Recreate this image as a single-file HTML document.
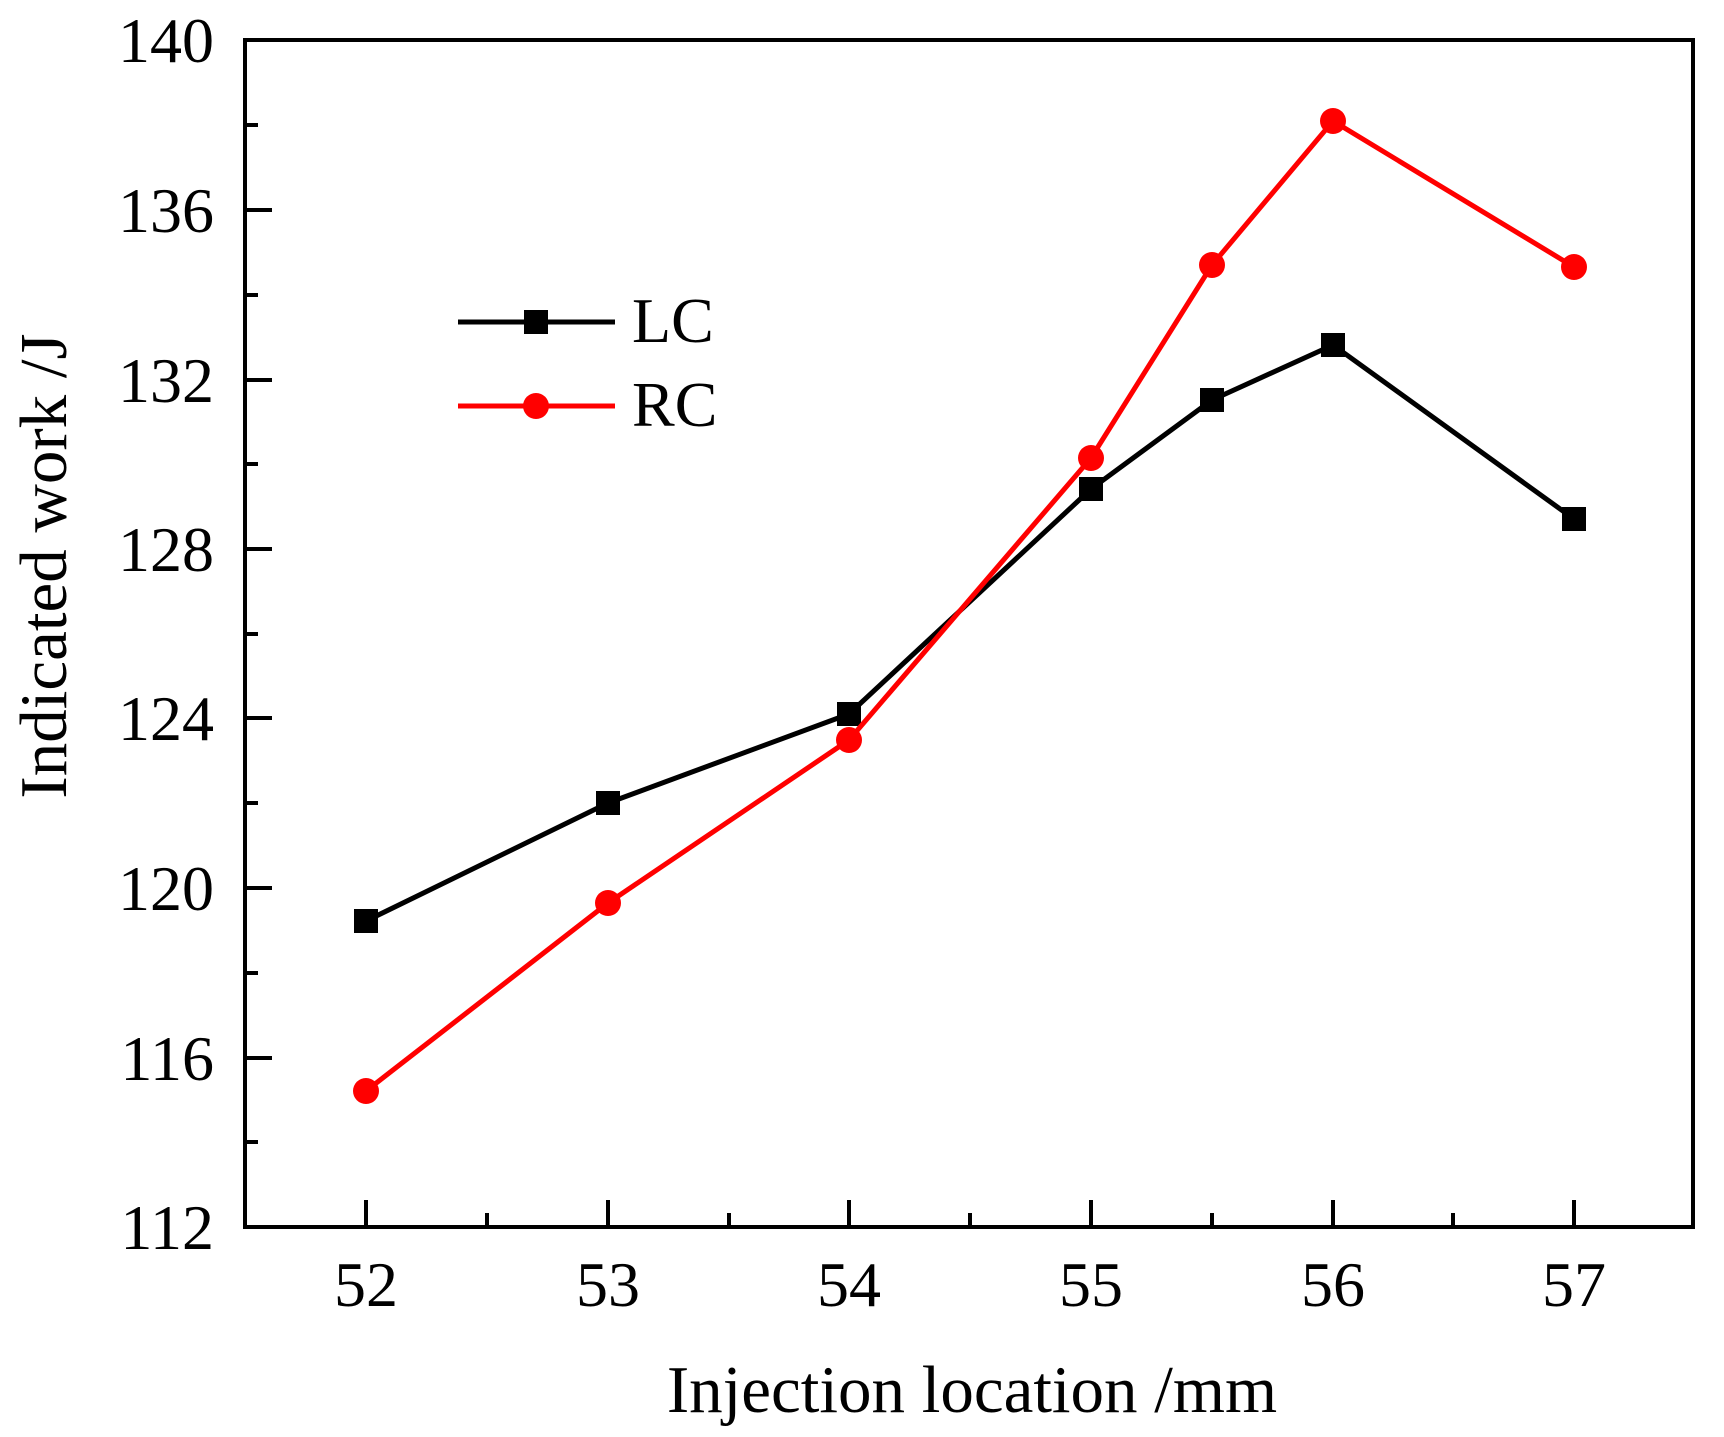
<!DOCTYPE html>
<html><head><meta charset="utf-8"><style>
html,body{margin:0;padding:0;background:#fff;}
svg{display:block;}
text{font-family:"Liberation Serif",serif;fill:#000;}
</style></head><body>
<svg width="1724" height="1437" viewBox="0 0 1724 1437" xmlns="http://www.w3.org/2000/svg">
<rect width="1724" height="1437" fill="#fff"/>
<g stroke="#000" stroke-width="4">
<rect x="245" y="40" width="1448" height="1187" fill="none"/>
<line x1="245" y1="40" x2="272" y2="40"/>
<line x1="245" y1="125" x2="258" y2="125"/>
<line x1="245" y1="210" x2="272" y2="210"/>
<line x1="245" y1="295" x2="258" y2="295"/>
<line x1="245" y1="380" x2="272" y2="380"/>
<line x1="245" y1="464" x2="258" y2="464"/>
<line x1="245" y1="549" x2="272" y2="549"/>
<line x1="245" y1="634" x2="258" y2="634"/>
<line x1="245" y1="718" x2="272" y2="718"/>
<line x1="245" y1="803" x2="258" y2="803"/>
<line x1="245" y1="888" x2="272" y2="888"/>
<line x1="245" y1="973" x2="258" y2="973"/>
<line x1="245" y1="1058" x2="272" y2="1058"/>
<line x1="245" y1="1142" x2="258" y2="1142"/>
<line x1="366" y1="1227" x2="366" y2="1200"/>
<line x1="487" y1="1227" x2="487" y2="1213"/>
<line x1="608" y1="1227" x2="608" y2="1200"/>
<line x1="729" y1="1227" x2="729" y2="1213"/>
<line x1="849" y1="1227" x2="849" y2="1200"/>
<line x1="970" y1="1227" x2="970" y2="1213"/>
<line x1="1091" y1="1227" x2="1091" y2="1200"/>
<line x1="1212" y1="1227" x2="1212" y2="1213"/>
<line x1="1333" y1="1227" x2="1333" y2="1200"/>
<line x1="1453" y1="1227" x2="1453" y2="1213"/>
<line x1="1574" y1="1227" x2="1574" y2="1200"/>
</g>
<g font-size="64" text-anchor="end">
<text x="214" y="62">140</text>
<text x="214" y="232">136</text>
<text x="214" y="402">132</text>
<text x="214" y="571">128</text>
<text x="214" y="740">124</text>
<text x="214" y="910">120</text>
<text x="214" y="1080">116</text>
<text x="214" y="1249">112</text>
</g>
<g font-size="64" text-anchor="middle">
<text x="366" y="1306">52</text>
<text x="608" y="1306">53</text>
<text x="849" y="1306">54</text>
<text x="1091" y="1306">55</text>
<text x="1333" y="1306">56</text>
<text x="1574" y="1306">57</text>
</g>
<text x="972" y="1412" font-size="67" text-anchor="middle">Injection location /mm</text>
<text transform="translate(66,566) rotate(-90)" font-size="67" text-anchor="middle">Indicated work /J</text>
<polyline fill="none" stroke="#000" stroke-width="5" stroke-linejoin="round" points="366,921 608,803 849,714 1091,489 1212,400 1333,345 1574,519"/>
<g fill="#000">
<rect x="354" y="909" width="24" height="24"/>
<rect x="596" y="791" width="24" height="24"/>
<rect x="837" y="702" width="24" height="24"/>
<rect x="1079" y="477" width="24" height="24"/>
<rect x="1200" y="388" width="24" height="24"/>
<rect x="1321" y="333" width="24" height="24"/>
<rect x="1562" y="507" width="24" height="24"/>
</g>
<polyline fill="none" stroke="#f00" stroke-width="5" stroke-linejoin="round" points="366,1091 608,903 849,740 1091,458 1212,265 1333,121 1574,267"/>
<g fill="#f00">
<circle cx="366" cy="1091" r="13"/>
<circle cx="608" cy="903" r="13"/>
<circle cx="849" cy="740" r="13"/>
<circle cx="1091" cy="458" r="13"/>
<circle cx="1212" cy="265" r="13"/>
<circle cx="1333" cy="121" r="13"/>
<circle cx="1574" cy="267" r="13"/>
</g>
<line x1="458" y1="322" x2="615" y2="322" stroke="#000" stroke-width="5"/>
<rect x="524" y="310" width="24" height="24" fill="#000"/>
<text x="632" y="342" font-size="64">LC</text>
<line x1="458" y1="406" x2="615" y2="406" stroke="#f00" stroke-width="5"/>
<circle cx="536" cy="406" r="13" fill="#f00"/>
<text x="632" y="426" font-size="64">RC</text>
</svg>
</body></html>
